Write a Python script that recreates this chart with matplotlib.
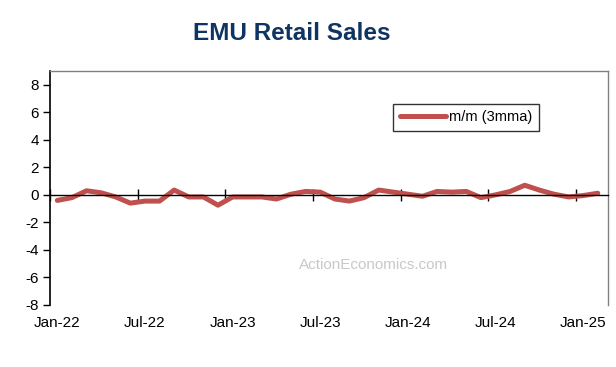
import matplotlib
matplotlib.use('Agg')
import matplotlib.pyplot as plt
import matplotlib.transforms as mtransforms
import numpy as np

plt.rcParams['font.family'] = ['Liberation Sans', 'DejaVu Sans']
plt.rcParams['axes.unicode_minus'] = False

# monthly data Jan-22 .. Feb-25
values = [-0.4, -0.2, 0.3, 0.15, -0.15, -0.6, -0.45, -0.45, 0.35, -0.15, -0.15, -0.75,
          -0.15, -0.15, -0.15, -0.3, 0.05, 0.25, 0.2, -0.3, -0.45, -0.2, 0.35, 0.2,
          0.05, -0.1, 0.25, 0.2, 0.25, -0.2, 0.0, 0.25, 0.7, 0.35, 0.05, -0.15,
          -0.05, 0.12]
tick_labels = ['Jan-22', 'Jul-22', 'Jan-23', 'Jul-23', 'Jan-24', 'Jul-24', 'Jan-25']
label_pos = [0, 6, 12, 18, 24, 30, 36]

x = np.arange(len(values))

fig = plt.figure(figsize=(6.16, 3.67), dpi=100)
ax = fig.add_axes([50/616, 1 - 305/367, 558/616, 234/367])

ax.plot(x, values, color='#C0504D', lw=3.6, solid_capstyle='round',
        solid_joinstyle='round', label='m/m (3mma)')

ax.set_xlim(-0.5, 37.7)
ax.set_ylim(-8, 9)
ax.set_yticks(np.arange(-8, 9, 2))
ax.tick_params(axis='y', direction='out', length=5, width=1, labelsize=11, pad=3)

# x axis crosses at zero, ticks on month boundaries
ax.spines['bottom'].set_position(('data', 0))
ax.spines['bottom'].set_linewidth(1)
ax.set_xticks([p - 0.5 for p in label_pos])
ax.set_xticklabels([])
ax.tick_params(axis='x', direction='inout', length=9, width=1)

trans = mtransforms.blended_transform_factory(ax.transData, ax.transAxes)
for p, lab in zip(label_pos, tick_labels):
    ax.text(p, -0.075, lab, transform=trans, ha='center', va='center', fontsize=11)

for s in ['top', 'right']:
    ax.spines[s].set_color('#808080')
    ax.spines[s].set_linewidth(1)
ax.spines['left'].set_linewidth(1.2)

leg = ax.legend(loc='upper left', bbox_to_anchor=(0.615, 0.86), fontsize=10.5,
                frameon=True, fancybox=False, handlelength=3.2, borderpad=0.45,
                handletextpad=0.2, borderaxespad=0)
leg.get_frame().set_edgecolor('black')
leg.get_frame().set_linewidth(1)

ax.text(0.58, 0.17, 'ActionEconomics.com', transform=ax.transAxes, ha='center',
        va='center', fontsize=11, color='#C8C8C8')

fig.text(292/616, 1 - 33/367, 'EMU Retail Sales', ha='center', va='center',
         fontsize=17.5, fontweight='bold', color='#0F3461')

fig.savefig('out.png', dpi=100)
